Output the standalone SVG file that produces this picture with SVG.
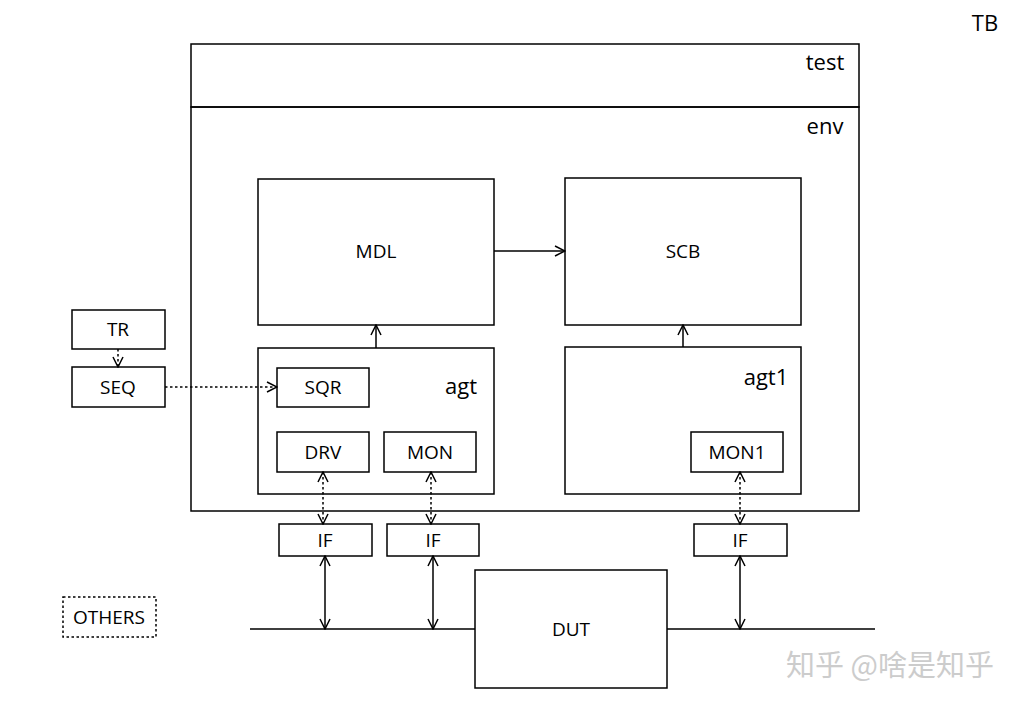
<svg xmlns="http://www.w3.org/2000/svg" width="1030" height="709" viewBox="0 0 1030 709">
<style>
rect{fill:none;stroke:#000;stroke-width:1.5}
text{font-family:"Open Sans","Liberation Sans",sans-serif;font-size:19px;fill:#000;text-anchor:middle;dominant-baseline:central}
.big{font-size:22px}
.l{stroke:#000;stroke-width:1.5;fill:none}
.d{stroke-dasharray:2.5,2.5}
</style>
<defs>
<marker id="a" viewBox="0 0 12 12" refX="11" refY="6" markerWidth="12" markerHeight="12" markerUnits="userSpaceOnUse" orient="auto-start-reverse"><path d="M1,1 L11,6 L1,11" fill="none" stroke="#000" stroke-width="1.5"/></marker>
</defs>
<rect x="0" y="0" width="1030" height="709" style="fill:#fff;stroke:none"/>
<text class="big" x="985" y="22">TB</text>
<g id="test"><rect x="191" y="44" width="668" height="63"/><text class="big" x="825" y="61">test</text></g>
<g id="env"><rect x="191" y="107" width="668" height="404"/><text class="big" x="825" y="125">env</text></g>
<g id="MDL"><rect x="258" y="179" width="236" height="146"/><text x="376" y="251">MDL</text></g>
<g id="SCB"><rect x="565" y="178" width="236" height="147"/><text x="683" y="251">SCB</text></g>
<g id="agt"><rect x="258" y="348" width="236" height="146"/><text class="big" x="461" y="385">agt</text></g>
<g id="agt1"><rect x="565" y="347" width="236" height="147"/><text class="big" x="766" y="376">agt1</text></g>
<g id="SQR"><rect x="277" y="368" width="92" height="39"/><text x="323" y="387">SQR</text></g>
<g id="DRV"><rect x="277" y="432" width="92" height="40"/><text x="323" y="452">DRV</text></g>
<g id="MON"><rect x="384" y="432" width="92" height="40"/><text x="430" y="452">MON</text></g>
<g id="MON1"><rect x="691" y="432" width="92" height="40"/><text x="737" y="452">MON1</text></g>
<g id="TR"><rect x="72" y="310" width="93" height="39"/><text x="118" y="329">TR</text></g>
<g id="SEQ"><rect x="72" y="367" width="93" height="40"/><text x="118" y="387">SEQ</text></g>
<g id="IF1"><rect x="279" y="524" width="93" height="32"/><text x="325" y="540">IF</text></g>
<g id="IF2"><rect x="387" y="524" width="92" height="32"/><text x="433" y="540">IF</text></g>
<g id="IF3"><rect x="694" y="524" width="93" height="32"/><text x="740" y="540">IF</text></g>
<g id="DUT"><rect x="475" y="570" width="192" height="118"/><text x="571" y="629">DUT</text></g>
<g id="OTHERS"><rect x="63" y="597" width="93" height="40" style="stroke-dasharray:2.5,2.5"/><text x="109" y="617">OTHERS</text></g>
<g id="connectors">
<path class="l" d="M494,251 L565,251" marker-end="url(#a)"/>
<path class="l" d="M376,348 L376,325" marker-end="url(#a)"/>
<path class="l" d="M683,347 L683,325" marker-end="url(#a)"/>
<path class="l d" d="M118,349 L118,367" marker-end="url(#a)"/>
<path class="l d" d="M165,387 L277,387" marker-end="url(#a)"/>
<path class="l d" d="M323,472 L323,524" marker-start="url(#a)" marker-end="url(#a)"/>
<path class="l d" d="M431,472 L431,524" marker-start="url(#a)" marker-end="url(#a)"/>
<path class="l d" d="M740,472 L740,524" marker-start="url(#a)" marker-end="url(#a)"/>
<path class="l" d="M325,556 L325,629" marker-start="url(#a)" marker-end="url(#a)"/>
<path class="l" d="M433,556 L433,629" marker-start="url(#a)" marker-end="url(#a)"/>
<path class="l" d="M740,556 L740,629" marker-start="url(#a)" marker-end="url(#a)"/>
<path class="l" d="M250,629 L475,629 M667,629 L875,629"/>
</g>
<text x="890" y="663" style="font-family:'Noto Sans CJK SC',sans-serif;font-size:29px;fill:#ccc">知乎 @啥是知乎</text>
</svg>
